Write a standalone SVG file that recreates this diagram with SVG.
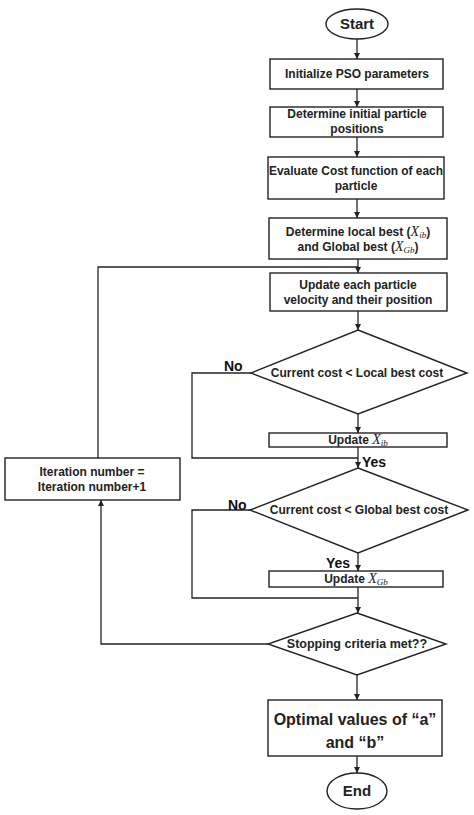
<svg xmlns="http://www.w3.org/2000/svg" width="474" height="815" viewBox="0 0 474 815">
<defs>
<style>
.s{fill:#fff;stroke:#222;stroke-width:1.4}
.c{fill:none;stroke:#222;stroke-width:1.3}
.t{font-family:"Liberation Sans",Arial,sans-serif;font-weight:bold;font-size:12px;fill:#222;text-anchor:middle}
.m{font-family:"Liberation Serif","Times New Roman",serif;font-style:italic;font-weight:normal;font-size:14px}
.sub{font-size:9px}
.lb{font-family:"Liberation Sans",Arial,sans-serif;font-weight:bold;font-size:14px;fill:#111}
</style>
<marker id="ah" viewBox="0 0 8 8" refX="8" refY="4" markerWidth="6" markerHeight="6" orient="auto" markerUnits="userSpaceOnUse">
<path d="M0,0 L8,4 L0,8 z" fill="#222"/>
</marker>
</defs>
<rect width="474" height="815" fill="#fff"/>
<g id="connectors">
<line class="c" x1="357" y1="39" x2="357" y2="59" marker-end="url(#ah)"/>
<line class="c" x1="357" y1="89" x2="357" y2="107" marker-end="url(#ah)"/>
<line class="c" x1="357" y1="137" x2="357" y2="157" marker-end="url(#ah)"/>
<line class="c" x1="357" y1="199" x2="357" y2="218" marker-end="url(#ah)"/>
<line class="c" x1="358" y1="259" x2="358" y2="273" marker-end="url(#ah)"/>
<polyline class="c" points="98,458 98,267 358,267"/>
<line class="c" x1="358" y1="311" x2="358" y2="330" marker-end="url(#ah)"/>
<line class="c" x1="358" y1="414" x2="358" y2="433" marker-end="url(#ah)"/>
<line class="c" x1="358" y1="447" x2="358" y2="468" marker-end="url(#ah)"/>
<polyline class="c" points="251,373 192,373 192,458 358,458"/>
<line class="c" x1="358" y1="553" x2="358" y2="571" marker-end="url(#ah)"/>
<polyline class="c" points="250,510 192,510 192,598 358,598"/>
<line class="c" x1="358" y1="587" x2="358" y2="613" marker-end="url(#ah)"/>
<polyline class="c" points="268,644 101,644 101,500" marker-end="url(#ah)"/>
<line class="c" x1="357" y1="675" x2="357" y2="700" marker-end="url(#ah)"/>
<line class="c" x1="357" y1="756" x2="357" y2="773" marker-end="url(#ah)"/>
</g>
<g id="start">
<ellipse class="s" cx="357" cy="24" rx="31" ry="15"/>
<text class="t" x="357" y="29" style="font-size:15px">Start</text>
</g>
<g id="init">
<rect class="s" x="270" y="59" width="173" height="30"/>
<text class="t" x="357" y="78">Initialize PSO parameters</text>
</g>
<g id="initpos">
<rect class="s" x="270" y="107" width="173" height="30"/>
<text class="t" x="357" y="118">Determine initial particle</text>
<text class="t" x="357" y="133">positions</text>
</g>
<g id="evaluate">
<rect class="s" x="268" y="157" width="176" height="42"/>
<text class="t" x="356" y="175" textLength="174" lengthAdjust="spacingAndGlyphs">Evaluate Cost function of each</text>
<text class="t" x="356" y="190">particle</text>
</g>
<g id="bests">
<rect class="s" x="269" y="218" width="178" height="41"/>
<text class="t" x="358" y="236">Determine local best (<tspan class="m">X<tspan class="sub" dy="2">ib</tspan></tspan><tspan dy="-2">)</tspan></text>
<text class="t" x="358" y="251">and Global best (<tspan class="m">X<tspan class="sub" dy="2">Gb</tspan></tspan><tspan dy="-2">)</tspan></text>
</g>
<g id="update">
<rect class="s" x="270" y="273" width="177" height="38"/>
<text class="t" x="358" y="289">Update each particle</text>
<text class="t" x="358" y="304">velocity and their position</text>
</g>
<g id="dec1">
<polygon class="s" points="358,330 467,373 358,414 251,373"/>
<text class="t" x="357" y="377">Current cost &lt; Local best cost</text>
<text class="lb" x="224" y="371">No</text>
<text class="lb" x="362" y="467">Yes</text>
</g>
<g id="updlb">
<rect class="s" x="269" y="433" width="178" height="14"/>
<text class="t" x="358" y="444">Update <tspan class="m">X<tspan class="sub" dy="2">ib</tspan></tspan></text>
</g>
<g id="iter">
<rect class="s" x="5" y="458" width="175" height="42"/>
<text class="t" x="92" y="476">Iteration number =</text>
<text class="t" x="92" y="491">Iteration number+1</text>
</g>
<g id="dec2">
<polygon class="s" points="358,468 468,510 358,553 250,510"/>
<text class="t" x="359" y="514">Current cost &lt; Global best cost</text>
<text class="lb" x="228" y="510">No</text>
<text class="lb" x="326" y="568">Yes</text>
</g>
<g id="updgb">
<rect class="s" x="269" y="571" width="174" height="16"/>
<text class="t" x="356" y="583">Update <tspan class="m">X<tspan class="sub" dy="2">Gb</tspan></tspan></text>
</g>
<g id="stop">
<polygon class="s" points="357,613 446,644 357,675 268,644"/>
<text class="t" x="357" y="648" style="font-size:12.5px">Stopping criteria met??</text>
</g>
<g id="optimal">
<rect class="s" x="268" y="700" width="174" height="56"/>
<text class="t" x="355" y="725" style="font-size:16px">Optimal values of “a”</text>
<text class="t" x="355" y="748" style="font-size:16px">and “b”</text>
</g>
<g id="end">
<ellipse class="s" cx="357" cy="791" rx="30" ry="18"/>
<text class="t" x="357" y="796" style="font-size:15px">End</text>
</g>
</svg>
